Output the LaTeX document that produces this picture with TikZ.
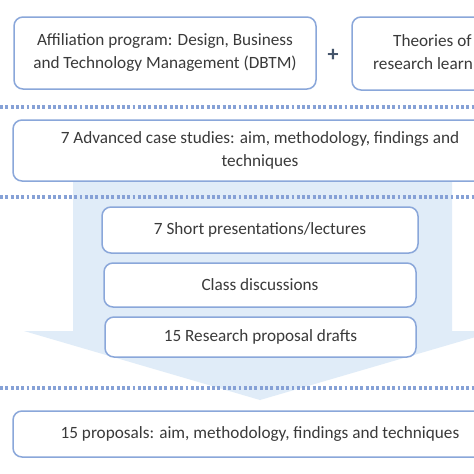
\documentclass[tikz,border=0pt]{standalone}
\usepackage{fontspec}
\setmainfont{Carlito}
\definecolor{boxline}{HTML}{8AA7DA}
\definecolor{txt}{HTML}{3A3A3A}
\definecolor{arrowfill}{HTML}{E0ECF8}
\definecolor{dotline}{HTML}{86A1D6}
\definecolor{plusc}{HTML}{44546A}
\tikzset{
  stagebox/.style={draw=boxline, line width=1.5pt, fill=white, rounded corners=9pt,
    inner sep=0pt, align=center, text=txt, font=\fontsize{17.2}{23}\selectfont},
  sepline/.style={draw=dotline, line width=3.2pt, dash pattern=on 2.9pt off 2.4pt},
  lbl/.style={text=txt, font=\fontsize{17.2}{23}\selectfont, inner sep=0pt}
}
\begin{document}
\begin{tikzpicture}[x=1pt,y=-1pt]
\useasboundingbox (0,0) rectangle (474,474);
\clip (0,0) rectangle (474,474);
\fill[white] (0,0) rectangle (474,474);
% big arrow
\fill[arrowfill] (73,170) -- (452,170) -- (452,331) -- (496,331) -- (260,400) -- (24,331) -- (73,331) -- cycle;
% separators
\coordinate (s1l) at (0,107); \coordinate (s1r) at (474,107);
\coordinate (s2l) at (0,197); \coordinate (s2r) at (474,197);
\coordinate (s3l) at (0,388); \coordinate (s3r) at (474,388);
\draw[sepline] (s1l) -- (s1r);
\draw[sepline] (s2l) -- (s2r);
\draw[sepline] (s3l) -- (s3r);
% top row
\node[stagebox, minimum width=302pt, minimum height=72pt] (aff) at (165,53)
  {Affiliation program: Design, Business\\and Technology Management (DBTM)};
\node[text=plusc, font=\fontsize{22}{22}\selectfont\bfseries] (plus) at (333,55) {+};
\node[stagebox, minimum width=302pt, minimum height=73pt] (theo) at (503,53.5) {};
\node[lbl, anchor=west] (theo1) at (393,41) {Theories of};
\node[lbl, anchor=west] (theo2) at (373,64) {research learn};
% case studies
\node[stagebox, minimum width=494pt, minimum height=61pt] (cases) at (260,150.5)
  {7 Advanced case studies: aim, methodology, findings and\\techniques};
% inner steps
\node[stagebox, minimum width=316pt, minimum height=46pt] (pres) at (260,230)
  {7 Short presentations/lectures};
\node[stagebox, minimum width=312pt, minimum height=44pt] (disc) at (260,285)
  {Class discussions};
\node[stagebox, minimum width=311pt, minimum height=40pt] (draft) at (260.5,337)
  {15 Research proposal drafts};
% result
\node[stagebox, minimum width=494pt, minimum height=46pt] (props) at (260,434)
  {15 proposals: aim, methodology, findings and techniques};
\end{tikzpicture}
\end{document}
